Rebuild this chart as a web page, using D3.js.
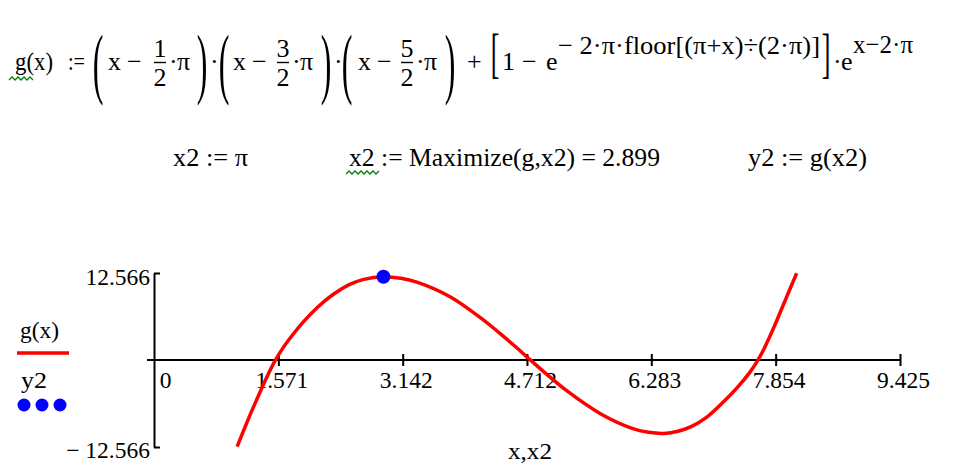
<!DOCTYPE html>
<html>
<head>
<meta charset="utf-8">
<script src="https://cdn.jsdelivr.net/npm/d3@7"></script>
<style>
  body { margin: 0; background: #fff; }
  text { font-family: "Liberation Serif", "Times New Roman", serif; fill: #000; }
</style>
</head>
<body>
<script>
// values
const gX = [1.05, 1.15, 1.23, 1.32, 1.40, 1.53, 1.63, 1.76, 1.89, 2.06, 2.22, 2.46, 2.65, 2.90, 3.12, 3.32,
            3.74, 4.16, 4.37, 4.58, 4.75, 5.21, 5.64, 6.06, 6.25, 6.44, 6.62, 6.80, 6.98, 7.19, 7.36, 7.53,
            7.62, 7.70, 7.78, 7.87, 7.95, 8.04, 8.12];
const gY = [-12.52, -9.70, -7.50, -5.15, -3.10, -0.10, 1.75, 3.75, 5.55, 7.55, 9.10, 10.85, 11.65, 12.03, 11.80, 11.25,
            9.14, 5.80, 3.85, 1.80, 0.05, -4.40, -7.75, -9.95, -10.45, -10.60, -10.30, -9.55, -8.30, -6.10, -4.10, -1.75,
            -0.20, 1.45, 3.40, 5.75, 7.95, 10.40, 12.52];
const x2 = [2.899];
const y2 = [12.03];
const xTicks = [0, 1.571, 3.142, 4.712, 6.283, 7.854, 9.425];
const xTickLabels = ["0", "1.571", "3.142", "4.712", "6.283", "7.854", "9.425"];
const yTicks = [-12.566, 12.566];
const yTickLabels = ["\u2212 12.566", "12.566"];
const legendNames = ["g(x)", "y2"];
const xTitle = "x,x2";

const svg = d3.select("body").append("svg")
    .attr("width", 957)
    .attr("height", 471);

// ---- formula, line 1 ----
const f = svg.append("g").attr("font-size", 26);

function txt(s, x, y, opts = {}) {
    const t = f.append("text").attr("x", x).attr("y", y).text(s);
    if (opts.tl) t.attr("textLength", opts.tl).attr("lengthAdjust", "spacingAndGlyphs");
    if (opts.anchor) t.attr("text-anchor", opts.anchor);
    return t;
}
function tall(s, cx, cy, size, sy) {
    f.append("text")
        .attr("transform", `translate(${cx},${cy}) scale(1,${sy})`)
        .attr("font-size", size)
        .attr("text-anchor", "middle")
        .attr("dominant-baseline", "central")
        .text(s);
}
function frac(num, cx) {
    txt(num, cx, 57, {anchor: "middle"});
    f.append("line").attr("x1", cx - 6).attr("x2", cx + 6)
        .attr("y1", 62.5).attr("y2", 62.5).attr("stroke", "#000").attr("stroke-width", 1.4);
    txt("2", cx, 86, {anchor: "middle"});
}
function squiggle(x0, x1, y) {
    let d = `M${x0},${y + 3}`;
    for (let x = x0, k = 0; x < x1; x += 3, k++) d += `L${x + 3},${k % 2 ? y + 3 : y}`;
    svg.append("path").attr("d", d).attr("fill", "none").attr("stroke", "#008000").attr("stroke-width", 1.3);
}

txt("g(x)", 15, 70, {tl: 38});
squiggle(9, 33, 77);
txt(":=", 68, 70, {tl: 17});

const parts = [
    {o: 98, x: 108, m: 127, n: "1", fc: 160, p: 169, c: 202},
    {o: 224, x: 233, m: 252, n: "3", fc: 283, p: 292, c: 326},
    {o: 347, x: 358, m: 377, n: "5", fc: 407, p: 416, c: 450}
];
parts.forEach((q, i) => {
    tall("(", q.o, 63, 32, 2.45);
    txt("x", q.x, 70);
    txt("\u2212", q.m, 70);
    frac(q.n, q.fc);
    txt("\u00b7", q.p, 70);
    txt("\u03c0", q.p + 8, 70);
    tall(")", q.c, 63, 32, 2.45);
    if (i < 2) txt("\u00b7", q.c + 8, 70);
});
txt("+", 467, 70);
tall("[", 495, 53, 26, 2.1);
txt("1", 502, 70);
txt("\u2212", 522, 70);
txt("e", 546, 70);
txt("\u2212 2\u00b7\u03c0\u00b7floor[(\u03c0+x)\u00f7(2\u00b7\u03c0)]", 558, 54, {tl: 262});
tall("]", 826, 53, 26, 2.1);
txt("\u00b7", 833, 70);
txt("e", 841, 70);
txt("x\u22122\u00b7\u03c0", 853, 53, {tl: 60});

// ---- line 2 ----
txt("x2 := \u03c0", 173, 166, {tl: 75});
txt("x2 := Maximize(g,x2) = 2.899", 349, 166, {tl: 311});
squiggle(346, 377, 171);
txt("y2 := g(x2)", 748, 166, {tl: 119});

// ---- plot ----
const x = d3.scaleLinear().domain([0, 9.425]).range([154, 900]);
const y = d3.scaleLinear().domain([-12.566, 12.566]).range([447, 273]);

svg.append("line")
    .attr("x1", x(0) - 7).attr("x2", x(9.425))
    .attr("y1", y(0)).attr("y2", y(0))
    .attr("stroke", "#000").attr("stroke-width", 2);

svg.append("g")
    .attr("transform", `translate(0,${y(0)})`)
    .call(d3.axisBottom(x).tickValues(xTicks).tickFormat((d, i) => xTickLabels[i]).tickSizeOuter(0))
    .call(g => g.select(".domain").remove())
    .call(g => g.selectAll(".tick line").attr("y1", -6).attr("y2", 6)
        .attr("stroke", "#000").attr("stroke-width", 2)
        .filter(d => d === 0).remove())
    .call(g => g.selectAll(".tick text")
        .attr("y", 28).attr("dy", null)
        .attr("dx", d => d === 0 ? 11 : 3)
        .attr("font-size", 23.5).attr("font-family", null).attr("fill", "#000"));

svg.append("g")
    .attr("transform", `translate(${x(0)},0)`)
    .call(d3.axisRight(y).tickValues(yTicks).tickFormat((d, i) => yTickLabels[i]).tickSize(6).tickSizeOuter(0))
    .call(g => g.select(".domain").attr("stroke", "#000").attr("stroke-width", 2))
    .call(g => g.selectAll(".tick line").attr("stroke", "#000").attr("stroke-width", 2))
    .call(g => g.selectAll(".tick text")
        .attr("x", -4).attr("dy", null).attr("y", d => d > 0 ? 11 : 10)
        .attr("text-anchor", "end")
        .attr("font-size", 23.5).attr("font-family", null).attr("fill", "#000"));

const line = d3.line()
    .x(i => x(gX[i]))
    .y(i => y(gY[i]))
    .curve(d3.curveCatmullRom.alpha(0.5));

svg.append("path")
    .attr("d", line(d3.range(gX.length)))
    .attr("fill", "none")
    .attr("stroke", "#ff0000")
    .attr("stroke-width", 3.5);

svg.selectAll("circle.pt")
    .data(x2)
    .join("circle")
    .attr("class", "pt")
    .attr("cx", d => x(d))
    .attr("cy", (d, i) => y(y2[i]))
    .attr("r", 7)
    .attr("fill", "#0000ff");

svg.append("text")
    .attr("x", 508).attr("y", 459)
    .attr("font-size", 23)
    .attr("textLength", 44).attr("lengthAdjust", "spacingAndGlyphs")
    .text(xTitle);

// legend
svg.append("text").attr("x", 20).attr("y", 338).attr("font-size", 23)
    .attr("textLength", 39).attr("lengthAdjust", "spacingAndGlyphs").text(legendNames[0]);
svg.append("line").attr("x1", 17).attr("x2", 69).attr("y1", 353).attr("y2", 353)
    .attr("stroke", "#ff0000").attr("stroke-width", 3.5);
svg.append("text").attr("x", 21).attr("y", 388).attr("font-size", 23)
    .attr("textLength", 26).attr("lengthAdjust", "spacingAndGlyphs").text(legendNames[1]);
svg.selectAll("circle.leg")
    .data([24, 42, 60])
    .join("circle")
    .attr("class", "leg")
    .attr("cx", d => d).attr("cy", 405).attr("r", 6.5)
    .attr("fill", "#0000ff");
</script>
</body>
</html>
